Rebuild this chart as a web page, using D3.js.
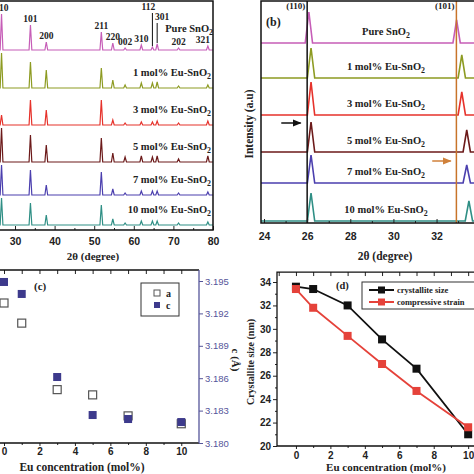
<!DOCTYPE html>
<html>
<head>
<meta charset="utf-8">
<script src="https://cdn.jsdelivr.net/npm/d3@7"></script>
<style>
  body { margin: 0; background: #fff; }
  svg { display: block; }
</style>
</head>
<body>
<svg width="474" height="474"></svg>
<script>
// ---- data ----
var seriesNames = ["Pure SnO2", "1 mol% Eu-SnO2", "3 mol% Eu-SnO2", "5 mol% Eu-SnO2", "7 mol% Eu-SnO2", "10 mol% Eu-SnO2"]

// (a) full pattern
var peakLabelsA = ["110", "101", "200", "211", "220", "002", "310", "112", "301", "202", "321"]
var peakPosA = [26.6, 33.9, 37.9, 51.8, 54.7, 57.8, 61.9, 64.7, 65.9, 71.3, 78.7]
var heightsPure = [36, 25, 8, 18, 7, 2, 5, 3, 6, 2, 4]
var heights1 = [35, 26, 18, 20, 8, 3, 5, 5, 6, 2, 3]
var heights3 = [10, 25, 15, 25, 5, 2, 3, 3, 4, 2, 4]
var heights5 = [34, 27, 17, 24, 9, 5, 6, 5, 6, 3, 6]
var heights7 = [30, 25, 10, 23, 6, 2, 4, 4, 4, 2, 3]
var heights10 = [27, 22, 10, 20, 6, 2, 4, 4, 4, 2, 3]
var offsetsA = [180, 142, 105, 68, 35, 5]
var ticksA = [30, 40, 50, 60, 70, 80]

// (b) zoom 24-34 deg
var pos110B = [26.08, 26.18, 26.18, 26.18, 26.18, 26.18]
var h110B = [31, 30, 33, 30, 28, 28]
var pos101B = [32.93, 33.17, 33.17, 33.4, 33.4, 33.5]
var h101B = [23, 23, 23, 22, 18, 20]
var offsetsB = [180, 145, 108, 71, 40, 2]
var ticksB = [24, 26, 28, 30, 32]
var refLinesB = [26.0, 32.92]

// (c) lattice parameters
var euConc = [0, 1, 3, 5, 7, 10]
var latticeA = [4.7410, 4.7387, 4.7311, 4.7305, 4.7281, 4.7272]
var latticeC = [3.19491, 3.19380, 3.18611, 3.18259, 3.18222, 3.18194]
var ticksCx = [0, 2, 4, 6, 8, 10]
var ticksCy = [3.180, 3.183, 3.186, 3.189, 3.192, 3.195]

// (d) crystallite size / strain
var crystSize = [33.6, 33.4, 32.0, 29.1, 26.6, 21.0]
var compStrain = [33.4, 31.8, 29.4, 27.0, 24.7, 21.6]
var ticksDy = [20, 22, 24, 26, 28, 30, 32, 34]

// ---- styles ----
var seriesColors = ["#c65db7", "#8d9b22", "#e6322b", "#6c1a1a", "#4b3fae", "#2f8f85"]
var serif = "'Liberation Serif','Times New Roman',serif"
var sans = "'Liberation Sans',Arial,sans-serif"

var svg = d3.select("svg")

function chem(sel, str) {
  // trailing digit of a formula becomes a subscript
  var m = str.match(/^(.*O)(\d)$/)
  if (!m) { sel.text(str); return sel }
  sel.append("tspan").text(m[1])
  sel.append("tspan").attr("dy", 3).attr("font-size", "0.75em").text(m[2])
  return sel
}

function peakPoints(pos, hts, halfW, lo, hi) {
  var pts = [[lo, 0]]
  pos.forEach(function(p, i) { pts.push([p - halfW, 0], [p, hts[i]], [p + halfW, 0]) })
  pts.push([hi, 0])
  return pts
}

function styleAxis(g, size) {
  g.select(".domain").remove()
  g.selectAll("text").attr("font-family", sans).attr("font-weight", "bold").attr("font-size", size || 10).attr("fill", "#222")
  g.selectAll("line").attr("stroke", "#222")
}

// ================= (a) =================
var xA = d3.scaleLinear().domain([20, 80]).range([-24.6, 213])
var yA = d3.scaleLinear().domain([0, 229]).range([230, 1])
var gA = svg.append("g")
var heightsA = [heightsPure, heights1, heights3, heights5, heights7, heights10]

var lineA = d3.line().x(function(d) { return xA(d[0]) }).y(function(d) { return d[1] })
heightsA.forEach(function(h, i) {
  var pts = peakPoints(peakPosA, h, 0.35, 20, 80).map(function(p) { return [p[0], yA(p[1] + offsetsA[i])] })
  gA.append("path").attr("d", lineA(pts)).attr("fill", "none")
    .attr("stroke", seriesColors[i]).attr("stroke-width", 1.2)
})

// peak labels on the pure pattern
peakLabelsA.forEach(function(lab, i) {
  var px = xA(peakPosA[i]), top = yA(offsetsA[0] + heightsPure[i])
  var tx = px, ty = top - 3
  if (lab === "112") { tx = px - 4; ty = yA(offsetsA[0] + 40) }
  if (lab === "301") { tx = px + 5; ty = yA(offsetsA[0] + 30) }
  if (lab === "321") { tx = px - 5 }
  if (lab === "112" || lab === "301") {
    gA.append("line").attr("x1", px).attr("x2", px).attr("y1", ty + 3).attr("y2", top - 1)
      .attr("stroke", "#111").attr("stroke-width", 1)
  }
  gA.append("text").attr("x", tx).attr("y", ty).attr("text-anchor", "middle")
    .attr("font-family", serif).attr("font-weight", "bold").attr("font-size", 9.5).attr("fill", "#222").text(lab)
})

// series names
seriesNames.forEach(function(n, i) {
  var lift = i === 0 ? 18 : 12
  var t = gA.append("text").attr("x", i === 0 ? 213 : 211).attr("y", yA(offsetsA[i]) - lift)
    .attr("text-anchor", "end").attr("font-family", serif).attr("font-weight", "bold")
    .attr("font-size", 10.5).attr("fill", "#222")
  chem(t, n)
})

var axA = gA.append("g").attr("transform", "translate(0,230)")
  .call(d3.axisBottom(xA).tickValues(ticksA).tickSize(-4).tickPadding(8))
styleAxis(axA, 10.5)
var axAm = gA.append("g").attr("transform", "translate(0,230)")
  .call(d3.axisBottom(xA).tickValues([25, 35, 45, 55, 65, 75]).tickSize(-2).tickFormat(""))
styleAxis(axAm)
gA.append("path").attr("d", "M0,1H213V230H0").attr("fill", "none").attr("stroke", "#111").attr("stroke-width", 1.5)
gA.append("text").attr("x", 93).attr("y", 260).attr("text-anchor", "middle")
  .attr("font-family", serif).attr("font-weight", "bold").attr("font-size", 11).attr("fill", "#222").text("2θ (degree)")

// ================= (b) =================
var xB = d3.scaleLinear().domain([23.86, 34.2]).range([261, 484])
var yB = d3.scaleLinear().domain([0, 222]).range([223, 1])
var gB = svg.append("g")
var lineB = d3.line().x(function(d) { return xB(d[0]) }).y(function(d) { return d[1] })

seriesNames.forEach(function(n, i) {
  var pts = peakPoints([pos110B[i], pos101B[i]], [h110B[i], h101B[i]], 0.17, 23.86, 34.2)
    .map(function(p) { return [p[0], yB(p[1] + offsetsB[i])] })
  gB.append("path").attr("d", lineB(pts)).attr("fill", "none")
    .attr("stroke", seriesColors[i]).attr("stroke-width", 1.6)
  var t = gB.append("text").attr("x", 386).attr("y", yB(offsetsB[i]) - 8)
    .attr("text-anchor", "middle").attr("font-family", serif).attr("font-weight", "bold")
    .attr("font-size", 10.5).attr("fill", "#222")
  chem(t, n)
})

gB.append("line").attr("x1", xB(refLinesB[0])).attr("x2", xB(refLinesB[0])).attr("y1", 1).attr("y2", 223)
  .attr("stroke", "#111").attr("stroke-width", 1.5)
gB.append("line").attr("x1", xB(refLinesB[1])).attr("x2", xB(refLinesB[1])).attr("y1", 1).attr("y2", 223)
  .attr("stroke", "#c8742a").attr("stroke-width", 1.5)
gB.append("text").attr("x", xB(refLinesB[0]) - 2).attr("y", 9).attr("text-anchor", "end")
  .attr("font-family", serif).attr("font-weight", "bold").attr("font-size", 9).attr("fill", "#222").text("(110)")
gB.append("text").attr("x", xB(refLinesB[1]) - 2).attr("y", 9).attr("text-anchor", "end")
  .attr("font-family", serif).attr("font-weight", "bold").attr("font-size", 9).attr("fill", "#222").text("(101)")
gB.append("text").attr("x", 266).attr("y", 26)
  .attr("font-family", serif).attr("font-weight", "bold").attr("font-size", 12).attr("fill", "#222").text("(b)")

// arrows
var defs = svg.append("defs")
;[["arrBlack", "#111"], ["arrOrange", "#d0813a"]].forEach(function(a) {
  defs.append("marker").attr("id", a[0]).attr("viewBox", "0 0 10 10").attr("refX", 9).attr("refY", 5)
    .attr("markerWidth", 6).attr("markerHeight", 6).attr("orient", "auto")
    .append("path").attr("d", "M0,1L10,5L0,9Z").attr("fill", a[1])
})
gB.append("line").attr("x1", xB(24.8)).attr("x2", xB(25.7)).attr("y1", yB(100)).attr("y2", yB(100))
  .attr("stroke", "#111").attr("stroke-width", 1.5).attr("marker-end", "url(#arrBlack)")
gB.append("line").attr("x1", xB(31.8)).attr("x2", xB(32.66)).attr("y1", yB(62)).attr("y2", yB(62))
  .attr("stroke", "#d0813a").attr("stroke-width", 1.5).attr("marker-end", "url(#arrOrange)")

var axB = gB.append("g").attr("transform", "translate(0,223)")
  .call(d3.axisBottom(xB).tickValues(ticksB).tickSize(-4).tickPadding(10))
styleAxis(axB, 10.5)
var axBm = gB.append("g").attr("transform", "translate(0,223)")
  .call(d3.axisBottom(xB).tickValues([25, 27, 29, 31, 33]).tickSize(-2).tickFormat(""))
styleAxis(axBm)
gB.append("path").attr("d", "M480,1H261V223H480").attr("fill", "none").attr("stroke", "#111").attr("stroke-width", 1.5)
gB.append("text").attr("x", 385).attr("y", 260).attr("text-anchor", "middle")
  .attr("font-family", serif).attr("font-weight", "bold").attr("font-size", 11.5).attr("fill", "#222").text("2θ (degree)")
gB.append("text").attr("transform", "translate(253,124) rotate(-90)").attr("text-anchor", "middle")
  .attr("font-family", serif).attr("font-weight", "bold").attr("font-size", 11.5).attr("fill", "#222").text("Intensity (a.u)")

// ================= (c) =================
var xC = d3.scaleLinear().domain([0, 11]).range([4, 199])
var yCc = d3.scaleLinear().domain([3.180, 3.195]).range([443, 281])
var yCa = d3.scaleLinear().domain([4.725, 4.745]).range([443, 268])
var gC = svg.append("g")
var cAxisColor = "#55559a"

var axC = gC.append("g").attr("transform", "translate(0,443)")
  .call(d3.axisBottom(xC).tickValues(ticksCx).tickSize(3).tickPadding(2))
styleAxis(axC, 10)
var axCm = gC.append("g").attr("transform", "translate(0,443)")
  .call(d3.axisBottom(xC).tickValues([1, 3, 5, 7, 9]).tickSize(2).tickFormat(""))
styleAxis(axCm)
var axCt = gC.append("g").attr("transform", "translate(0,270)")
  .call(d3.axisTop(xC).tickValues(d3.range(0, 11)).tickSize(-4).tickFormat(""))
styleAxis(axCt)
gC.append("path").attr("d", "M0,270H199M0,443H199").attr("fill", "none").attr("stroke", "#111").attr("stroke-width", 1.3)

var axCr = gC.append("g").attr("transform", "translate(199,0)")
  .call(d3.axisRight(yCc).tickValues(ticksCy).tickSize(4).tickPadding(2).tickFormat(d3.format(".3f")))
axCr.select(".domain").remove()
axCr.selectAll("text").attr("font-family", sans).attr("font-size", 9.5).attr("fill", cAxisColor)
axCr.selectAll("line").attr("stroke", cAxisColor)
gC.append("line").attr("x1", 199).attr("x2", 199).attr("y1", 270).attr("y2", 443).attr("stroke", cAxisColor).attr("stroke-width", 1.3)
gC.append("text").attr("transform", "translate(232,360) rotate(90)").attr("text-anchor", "middle")
  .attr("font-family", serif).attr("font-weight", "bold").attr("font-size", 11).attr("fill", "#222").text("c (Å)")

var sq = 8
gC.selectAll("rect.a").data(euConc).enter().append("rect")
  .attr("x", function(d) { return xC(d) - sq / 2 }).attr("y", function(d, i) { return yCa(latticeA[i]) - sq / 2 })
  .attr("width", sq).attr("height", sq).attr("fill", "#fff").attr("stroke", "#555").attr("stroke-width", 1.2)
gC.selectAll("rect.c").data(euConc).enter().append("rect")
  .attr("x", function(d) { return xC(d) - sq / 2 }).attr("y", function(d, i) { return yCc(latticeC[i]) - sq / 2 })
  .attr("width", sq).attr("height", sq).attr("fill", "#3d3a8c")

gC.append("text").attr("x", 34).attr("y", 290)
  .attr("font-family", serif).attr("font-weight", "bold").attr("font-size", 11).attr("fill", "#222").text("(c)")
gC.append("rect").attr("x", 141).attr("y", 283).attr("width", 38).attr("height", 33)
  .attr("fill", "#fff").attr("stroke", "#333").attr("stroke-width", 1)
gC.append("rect").attr("x", 154).attr("y", 290).attr("width", 6).attr("height", 6)
  .attr("fill", "#fff").attr("stroke", "#555").attr("stroke-width", 1)
gC.append("rect").attr("x", 154).attr("y", 302).attr("width", 6).attr("height", 6).attr("fill", "#3d3a8c")
gC.append("text").attr("x", 166).attr("y", 297).attr("font-family", serif).attr("font-weight", "bold")
  .attr("font-size", 10).attr("fill", "#222").text("a")
gC.append("text").attr("x", 166).attr("y", 309).attr("font-family", serif).attr("font-weight", "bold")
  .attr("font-size", 10).attr("fill", "#222").text("c")
gC.append("text").attr("x", 82).attr("y", 471).attr("text-anchor", "middle")
  .attr("font-family", serif).attr("font-weight", "bold").attr("font-size", 11.5).attr("fill", "#222").text("Eu concentration (mol%)")

// ================= (d) =================
var xD = d3.scaleLinear().domain([-1.1, 11.5]).range([277, 494])
var yD = d3.scaleLinear().domain([20, 34]).range([446, 282])
var gD = svg.append("g")
var dTop = yD(34.85)

var axDx = gD.append("g").attr("transform", "translate(0,446)")
  .call(d3.axisBottom(xD).tickValues(ticksCx).tickSize(3).tickPadding(3))
styleAxis(axDx, 10)
var axDxm = gD.append("g").attr("transform", "translate(0,446)")
  .call(d3.axisBottom(xD).tickValues([1, 3, 5, 7, 9, 11]).tickSize(2).tickFormat(""))
styleAxis(axDxm)
var axDt = gD.append("g").attr("transform", "translate(0," + dTop + ")")
  .call(d3.axisTop(xD).tickValues(d3.range(-1, 12)).tickSize(-4).tickFormat(""))
styleAxis(axDt)
var axDy = gD.append("g").attr("transform", "translate(277,0)")
  .call(d3.axisLeft(yD).tickValues(ticksDy).tickSize(4).tickPadding(2))
styleAxis(axDy, 10)
var axDym = gD.append("g").attr("transform", "translate(277,0)")
  .call(d3.axisLeft(yD).tickValues([21, 23, 25, 27, 29, 31, 33]).tickSize(2).tickFormat(""))
styleAxis(axDym)
gD.append("path").attr("d", "M480," + dTop + "H277V446H480").attr("fill", "none").attr("stroke", "#111").attr("stroke-width", 1.3)

var lineD = d3.line().x(function(d, i) { return xD(euConc[i]) }).y(function(d) { return yD(d) })
var dSeries = [[crystSize, "#111"], [compStrain, "#e5423a"]]
dSeries.forEach(function(s) {
  gD.append("path").attr("d", lineD(s[0])).attr("fill", "none").attr("stroke", s[1]).attr("stroke-width", 1.8)
})
dSeries.forEach(function(s) {
  gD.selectAll(null).data(s[0]).enter().append("rect")
    .attr("x", function(d, i) { return xD(euConc[i]) - sq / 2 }).attr("y", function(d) { return yD(d) - sq / 2 })
    .attr("width", sq).attr("height", sq).attr("fill", s[1])
})

gD.append("text").attr("x", 336).attr("y", 289)
  .attr("font-family", serif).attr("font-weight", "bold").attr("font-size", 10.5).attr("fill", "#222").text("(d)")
gD.append("rect").attr("x", 362).attr("y", 282).attr("width", 120).attr("height", 27)
  .attr("fill", "#fff").attr("stroke", "#333").attr("stroke-width", 1)
var legD = ["crystallite size", "compressive strain"]
legD.forEach(function(name, i) {
  var ly = 290 + i * 12
  gD.append("line").attr("x1", 369).attr("x2", 394).attr("y1", ly).attr("y2", ly)
    .attr("stroke", dSeries[i][1]).attr("stroke-width", 2)
  gD.append("rect").attr("x", 378).attr("y", ly - 3.5).attr("width", 7).attr("height", 7).attr("fill", dSeries[i][1])
  gD.append("text").attr("x", 397).attr("y", ly + 3).attr("font-family", serif).attr("font-weight", "bold")
    .attr("font-size", 8.5).attr("fill", "#222").text(name)
})
gD.append("text").attr("transform", "translate(254,362) rotate(-90)").attr("text-anchor", "middle")
  .attr("font-family", serif).attr("font-weight", "bold").attr("font-size", 10).attr("fill", "#222").text("Crystallite size (nm)")
gD.append("text").attr("x", 386).attr("y", 471).attr("text-anchor", "middle")
  .attr("font-family", serif).attr("font-weight", "bold").attr("font-size", 11).attr("fill", "#222").text("Eu concentration (mol%)")
</script>
</body>
</html>
